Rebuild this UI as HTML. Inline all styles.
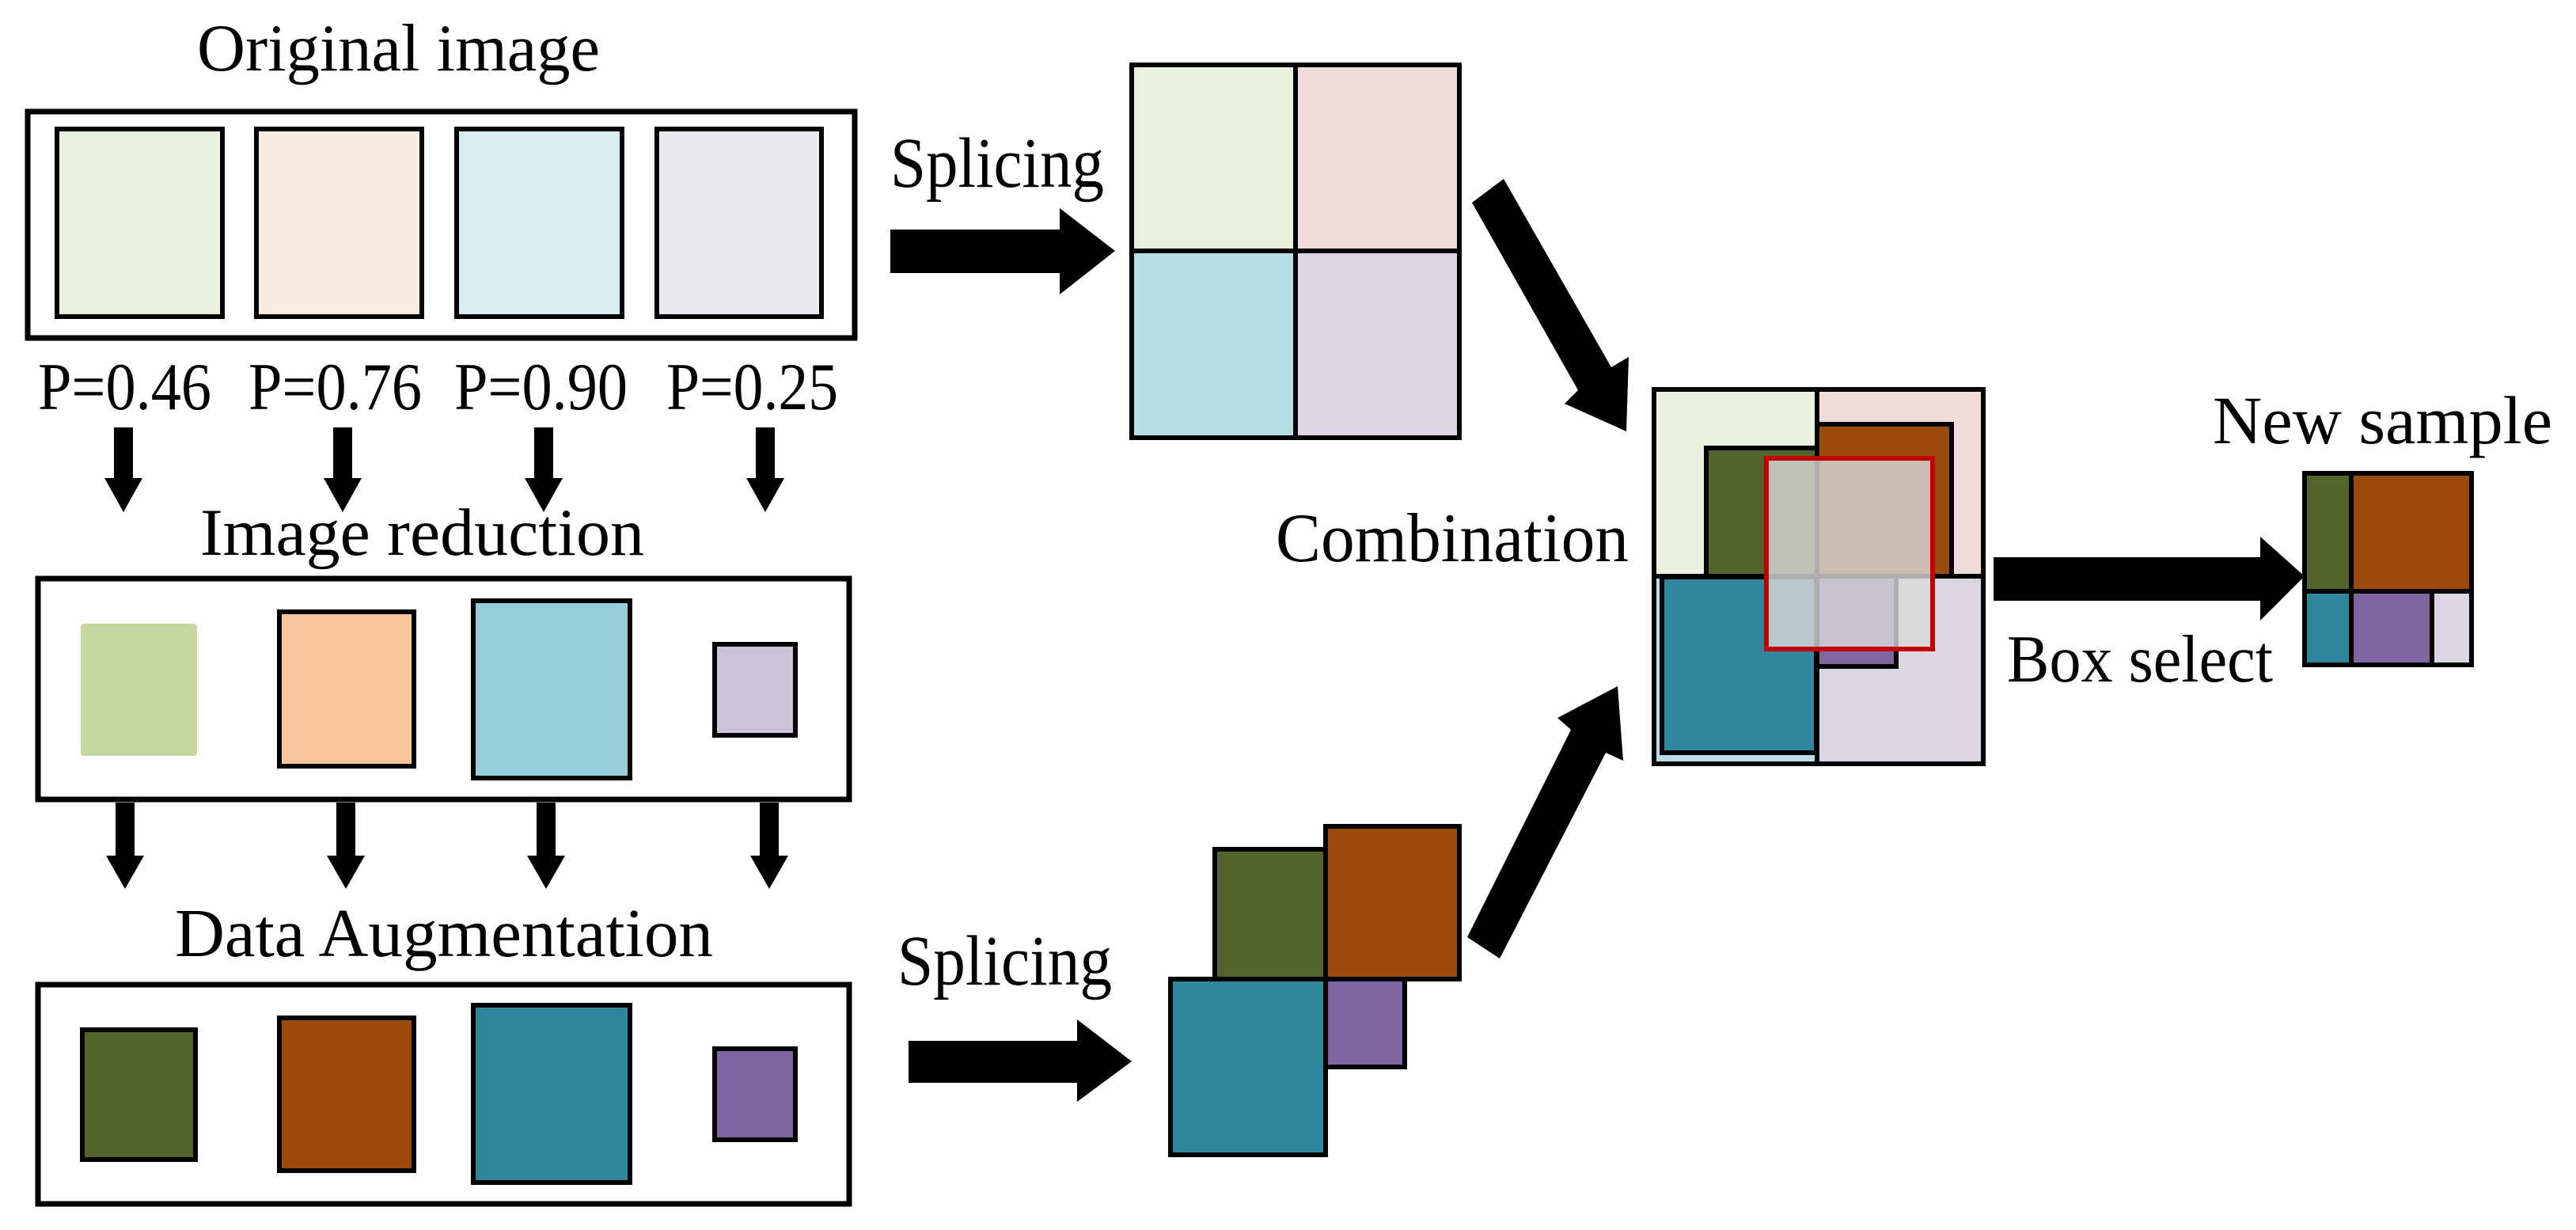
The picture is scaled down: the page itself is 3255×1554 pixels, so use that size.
<!DOCTYPE html>
<html><head><meta charset="utf-8"><style>html,body{margin:0;padding:0;background:#fff}svg{display:block}</style></head><body>
<svg width="3255" height="1554" viewBox="0 0 3255 1554" xmlns="http://www.w3.org/2000/svg" font-family="Liberation Serif, serif" fill="#000">
<!-- Original image -->
<text x="249" y="89" font-size="85" textLength="509" lengthAdjust="spacingAndGlyphs">Original image</text>
<rect x="35" y="141" width="1045" height="286" fill="#fff" stroke="#000" stroke-width="7"/>
<g stroke="#000" stroke-width="6">
<rect x="72" y="163" width="209" height="237" fill="#e9f0e0"/>
<rect x="324" y="163" width="209" height="237" fill="#fcebdf"/>
<rect x="577" y="163" width="209" height="237" fill="#daedf2"/>
<rect x="830" y="163" width="208" height="237" fill="#ebe8f0"/>
</g>
<g font-size="85">
<text x="48" y="517" textLength="219" lengthAdjust="spacingAndGlyphs">P=0.46</text>
<text x="314" y="517" textLength="219" lengthAdjust="spacingAndGlyphs">P=0.76</text>
<text x="574" y="517" textLength="219" lengthAdjust="spacingAndGlyphs">P=0.90</text>
<text x="842" y="517" textLength="217" lengthAdjust="spacingAndGlyphs">P=0.25</text>
</g>
<!-- down arrows row 1 -->
<g>
<polygon points="144,540 168,540 168,604 180,604 156,647 132,604 144,604"/>
<polygon points="421,540 445,540 445,604 457,604 433,647 409,604 421,604"/>
<polygon points="675,540 699,540 699,604 711,604 687,647 663,604 675,604"/>
<polygon points="955,540 979,540 979,604 991,604 967,647 943,604 955,604"/>
</g>
<text x="253" y="701" font-size="85" textLength="561" lengthAdjust="spacingAndGlyphs">Image reduction</text>
<rect x="48" y="731" width="1025" height="279" fill="#fff" stroke="#000" stroke-width="7"/>
<rect x="102" y="788" width="147" height="167" rx="4" fill="#c5d6a0"/>
<g stroke="#000" stroke-width="6">
<rect x="353" y="773" width="170" height="195" fill="#f7c59c"/>
<rect x="598" y="759" width="198" height="224" fill="#95cdda"/>
<rect x="903" y="814" width="102" height="115" fill="#ccc3da"/>
</g>
<!-- down arrows row 2 -->
<g>
<polygon points="146,1014 170,1014 170,1081 182,1081 158,1123 134,1081 146,1081"/>
<polygon points="425,1014 449,1014 449,1081 461,1081 437,1123 413,1081 425,1081"/>
<polygon points="678,1014 702,1014 702,1081 714,1081 690,1123 666,1081 678,1081"/>
<polygon points="960,1014 984,1014 984,1081 996,1081 972,1123 948,1081 960,1081"/>
</g>
<text x="221" y="1208" font-size="87" textLength="680" lengthAdjust="spacingAndGlyphs">Data Augmentation</text>
<rect x="48" y="1244" width="1025" height="277" fill="#fff" stroke="#000" stroke-width="7"/>
<g stroke="#000" stroke-width="6">
<rect x="104" y="1301" width="143" height="164" fill="#52632c"/>
<rect x="353" y="1286" width="170" height="193" fill="#9b4a0b"/>
<rect x="598" y="1270" width="198" height="224" fill="#2f8599"/>
<rect x="903" y="1325" width="102" height="115" fill="#7f66a0"/>
</g>
<!-- Splicing top -->
<text x="1125" y="236" font-size="90" textLength="270" lengthAdjust="spacingAndGlyphs">Splicing</text>
<polygon points="1125,290 1339,290 1339,263 1409,317 1339,372 1339,345 1125,345"/>
<g stroke="#000" stroke-width="6">
<rect x="1430" y="82" width="207" height="235" fill="#e9f0e0"/>
<rect x="1637" y="82" width="207" height="235" fill="#f0dcda"/>
<rect x="1430" y="317" width="207" height="236" fill="#b7dde6"/>
<rect x="1637" y="317" width="207" height="236" fill="#dcd6e4"/>
</g>
<polygon points="1860,256 1900,226 2036,464 2058,451 2055,545 1977,510 1994,493"/>
<text x="1612" y="709" font-size="88" textLength="446" lengthAdjust="spacingAndGlyphs">Combination</text>
<polygon points="1854,1184 1985,922 1968,907 2044,867 2051,961 2029,951 1895,1211"/>
<!-- Splicing bottom -->
<text x="1134" y="1244" font-size="90" textLength="271" lengthAdjust="spacingAndGlyphs">Splicing</text>
<polygon points="1148,1315 1361,1315 1361,1288 1430,1341 1361,1392 1361,1368 1148,1368"/>
<g stroke="#000" stroke-width="6">
<rect x="1535" y="1073" width="140" height="164" fill="#52632c"/>
<rect x="1675" y="1044" width="169" height="193" fill="#9b4a0b"/>
<rect x="1479" y="1237" width="196" height="222" fill="#2f8599"/>
<rect x="1675" y="1237" width="100" height="111" fill="#7f66a0"/>
</g>
<!-- Combination box -->
<rect x="2090" y="492" width="206" height="236" fill="#e9f0e0"/>
<rect x="2296" y="492" width="210" height="236" fill="#f0dcda"/>
<rect x="2090" y="728" width="206" height="237" fill="#b7dde6"/>
<rect x="2296" y="728" width="210" height="237" fill="#dcd6e4"/>
<g stroke="#000" stroke-width="6">
<rect x="2156" y="566" width="140" height="162" fill="#52632c"/>
<rect x="2296" y="536" width="170" height="192" fill="#9b4a0b"/>
<rect x="2100" y="729" width="195" height="222" fill="#2f8599"/>
<rect x="2296" y="728" width="100" height="114" fill="#7f66a0"/>
<line x1="2090" y1="728" x2="2506" y2="728"/>
<line x1="2296" y1="492" x2="2296" y2="965"/>
<rect x="2090" y="492" width="416" height="473" fill="none"/>
</g>
<rect x="2232" y="579" width="210" height="241" fill="rgba(217,217,217,0.8)" stroke="#c00000" stroke-width="6"/>
<!-- Box select arrow -->
<polygon points="2519,704 2856,704 2856,678 2912,728 2856,784 2856,759 2519,759"/>
<text x="2536" y="861" font-size="85" textLength="336" lengthAdjust="spacingAndGlyphs">Box select</text>
<text x="2796" y="560" font-size="86" textLength="429" lengthAdjust="spacingAndGlyphs">New sample</text>
<g stroke="#000" stroke-width="6">
<rect x="2912" y="598" width="59" height="149" fill="#52632c"/>
<rect x="2971" y="598" width="152" height="149" fill="#9b4a0b"/>
<rect x="2912" y="747" width="59" height="93" fill="#2f8599"/>
<rect x="2971" y="747" width="102" height="93" fill="#7f66a0"/>
<rect x="3073" y="747" width="50" height="93" fill="#dcd6e4"/>
</g>
</svg>
</body></html>
